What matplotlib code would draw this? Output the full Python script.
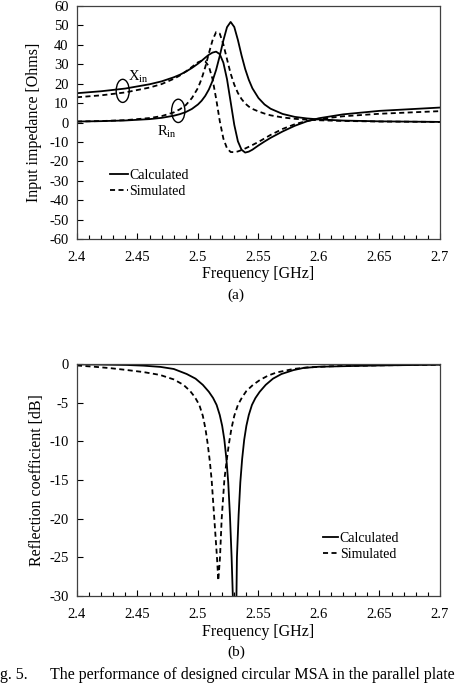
import matplotlib
matplotlib.use('Agg')
import matplotlib.pyplot as plt
from matplotlib.patches import Ellipse
from matplotlib.ticker import MultipleLocator

# (a) input impedance
freq_a = [2.40, 2.42, 2.44, 2.46, 2.47, 2.48, 2.485, 2.49, 2.495, 2.50,
          2.503, 2.506, 2.509, 2.512, 2.515, 2.518, 2.521, 2.524, 2.527, 2.530,
          2.533, 2.536, 2.539, 2.542, 2.545, 2.55, 2.555, 2.56, 2.57, 2.58,
          2.59, 2.60, 2.62, 2.65, 2.70]
rin_calc = [0.5, 0.7, 1.05, 1.75, 2.4, 3.5, 4.3, 5.4, 7.0, 9.3,
            11.2, 13.7, 17.0, 21.4, 27.1, 34.3, 42.3, 49.1, 51.8, 49.2,
            42.5, 34.6, 27.6, 22.0, 17.6, 12.6, 9.3, 7.1, 4.4, 2.9,
            2.1, 1.6, 1.0, 0.6, 0.3]
xin_calc = [15.1, 16.1, 17.5, 19.7, 21.2, 23.3, 24.6, 26.2, 28.1, 30.3,
            31.8, 33.4, 34.9, 36.0, 36.5, 35.2, 30.8, 22.3, 10.6, -1.2,
            -9.7, -14.0, -15.5, -15.0, -14.0, -11.8, -9.8, -7.9, -4.6, -1.7,
            0.6, 2.2, 4.2, 6.0, 7.7]
rin_sim = [0.5, 0.75, 1.2, 2.3, 3.3, 5.2, 6.8, 9.0, 12.6, 17.8,
           22.5, 28.5, 35.6, 42.3, 46.6, 45.8, 40.2, 32.6, 25.2, 19.5,
           15.2, 12.1, 9.8, 8.2, 7.0, 5.7, 4.6, 3.7, 2.6, 1.9,
           1.45, 1.15, 0.8, 0.5, 0.3]
xin_sim = [13.0, 14.0, 15.5, 18.0, 19.8, 22.5, 24.2, 26.3, 28.6, 31.0,
           31.8, 31.5, 28.9, 22.5, 12.3, 0.8, -8.3, -13.3, -15.2, -15.3,
           -14.9, -14.2, -13.4, -12.5, -11.6, -10.0, -8.2, -6.4, -3.3, -0.9,
           0.8, 1.8, 3.2, 4.5, 5.85]

# (b) reflection coefficient
freq_b_calc = [2.400, 2.420, 2.441, 2.455, 2.469, 2.480, 2.4907, 2.498, 2.504, 2.509,
               2.5125, 2.5154, 2.518, 2.520, 2.5218, 2.5235, 2.5250, 2.5264, 2.5278, 2.5288,
               2.5300, 2.5318, 2.5322, 2.5336, 2.5350, 2.5365, 2.5382, 2.540, 2.542, 2.5446,
               2.5475, 2.551, 2.556, 2.562, 2.569, 2.5788, 2.587, 2.60, 2.634, 2.66, 2.70]
s11_calc = [-0.05, -0.08, -0.13, -0.22, -0.38, -0.65, -1.3, -1.9, -2.7, -3.6,
            -4.4, -5.3, -6.6, -8.0, -9.8, -12.3, -15.3, -19.5, -25.0, -30.0,
            -40.0, -30.0, -25.0, -19.5, -15.3, -12.3, -9.8, -8.0, -6.6, -5.3,
            -4.4, -3.6, -2.7, -1.9, -1.3, -0.8, -0.52, -0.36, -0.24, -0.17, -0.1]
freq_b_sim = [2.400, 2.4135, 2.428, 2.441, 2.455, 2.4686, 2.480, 2.488, 2.4935, 2.4975,
              2.5011, 2.5040, 2.5062, 2.5080, 2.5098, 2.5113, 2.5135, 2.5157, 2.5168, 2.5182,
              2.5196, 2.5218, 2.5236, 2.5256, 2.5276, 2.530, 2.533, 2.5365, 2.540, 2.5455,
              2.5512, 2.558, 2.565, 2.5788, 2.59, 2.61, 2.65, 2.70]
s11_sim = [-0.2, -0.35, -0.55, -0.78, -1.05, -1.42, -2.0, -2.7, -3.5, -4.3,
           -5.3, -6.7, -8.4, -10.3, -12.6, -15.0, -20.0, -25.0, -28.0, -25.0,
           -20.0, -15.0, -12.6, -10.3, -8.4, -6.7, -5.3, -4.3, -3.5, -2.7,
           -2.07, -1.5, -1.1, -0.65, -0.45, -0.3, -0.18, -0.1]

xticks = [2.4, 2.45, 2.5, 2.55, 2.6, 2.65, 2.7]
xtick_labels = ['2.4', '2.45', '2.5', '2.55', '2.6', '2.65', '2.7']

plt.rcParams['font.family'] = 'Liberation Serif'
plt.rcParams['mathtext.fontset'] = 'custom'
plt.rcParams['mathtext.rm'] = 'Liberation Serif'
plt.rcParams['axes.unicode_minus'] = False

fig = plt.figure(figsize=(4.74, 6.84), dpi=100)
ax1 = fig.add_axes([0.1624, 0.6506, 0.7658, 0.3406])
ax2 = fig.add_axes([0.1624, 0.1287, 0.7658, 0.3392])

lw = 1.3
dash = (0, (2.8, 1.9))

ax1.plot(freq_a, xin_calc, color='k', lw=lw, label='Calculated')
ax1.plot(freq_a, xin_sim, color='k', lw=lw, linestyle=dash, label='Simulated')
ax1.plot(freq_a, rin_calc, color='k', lw=lw)
ax1.plot(freq_a, rin_sim, color='k', lw=lw, linestyle=dash)

ax1.add_patch(Ellipse((2.4378, 16.3), 0.0108, 11.9, fill=False, ec='k', lw=1.0))
ax1.add_patch(Ellipse((2.4837, 6.0), 0.011, 12.0, fill=False, ec='k', lw=1.0))
ax1.text(2.4425, 23.5, r'X$_{\mathrm{in}}$', fontsize=10.5, va='center', ha='left')
ax1.text(2.4665, -4.5, r'R$_{\mathrm{in}}$', fontsize=10.5, va='center', ha='left')

ax1.set_ylim(-60, 60)
ax1.yaxis.set_major_locator(MultipleLocator(10))
ax1.set_ylabel('Input impedance [Ohms]', fontsize=11.5)
ax1.legend(loc='upper left', bbox_to_anchor=(0.0909, 0.30), frameon=False,
           fontsize=10, handlelength=1.3, handletextpad=0.1, labelspacing=0.2,
           borderpad=0, borderaxespad=0)

ax2.plot(freq_b_calc, s11_calc, color='k', lw=lw, label='Calculated')
ax2.plot(freq_b_sim, s11_sim, color='k', lw=lw, linestyle=dash, label='Simulated')
ax2.set_ylim(-30, 0)
ax2.yaxis.set_major_locator(MultipleLocator(5))
ax2.set_ylabel('Reflection coefficient [dB]', fontsize=11.5)
ax2.legend(loc='upper left', bbox_to_anchor=(0.6777, 0.276), frameon=False,
           fontsize=10, handlelength=1.1, handletextpad=0.1, labelspacing=0.2,
           borderpad=0, borderaxespad=0)

for ax, ylab_x, xlab_y in [(ax1, -0.096, -0.116), (ax2, -0.088, -0.121)]:
    ax.set_xlim(2.4, 2.7)
    ax.set_xticks(xticks)
    ax.set_xticklabels(xtick_labels)
    ax.xaxis.set_minor_locator(MultipleLocator(0.01))
    ax.tick_params(axis='x', which='both', direction='in', top=False, labelsize=10.5, pad=8.5)
    ax.tick_params(axis='x', which='major', length=4, width=0.8)
    ax.tick_params(axis='x', which='minor', length=3, width=0.8)
    ax.tick_params(axis='y', which='major', direction='in', right=False, length=4,
                   width=0.8, labelsize=10.5, pad=6)
    for sp in ax.spines.values():
        sp.set_color('#404040')
        sp.set_linewidth(0.9)
    ax.set_xlabel('Frequency [GHz]', fontsize=11.5)
    ax.xaxis.set_label_coords(0.5, xlab_y)
    ax.xaxis.label.set_va('top')
    ax.yaxis.set_label_coords(ylab_x, 0.5)

fig.text(0.498, 1 - 295 / 684, '(a)', fontsize=11, ha='center', va='center')
fig.text(0.498, 1 - 652 / 684, '(b)', fontsize=11, ha='center', va='center')

# caption line at the bottom edge
fig.text(0.0, 1 / 684, 'g. 5.', fontsize=11.5, ha='left', va='bottom')
fig.text(50 / 474, 1 / 684,
         'The performance of designed circular MSA in the parallel plate',
         fontsize=11.5, ha='left', va='bottom')

fig.savefig('out.png', dpi=100)
